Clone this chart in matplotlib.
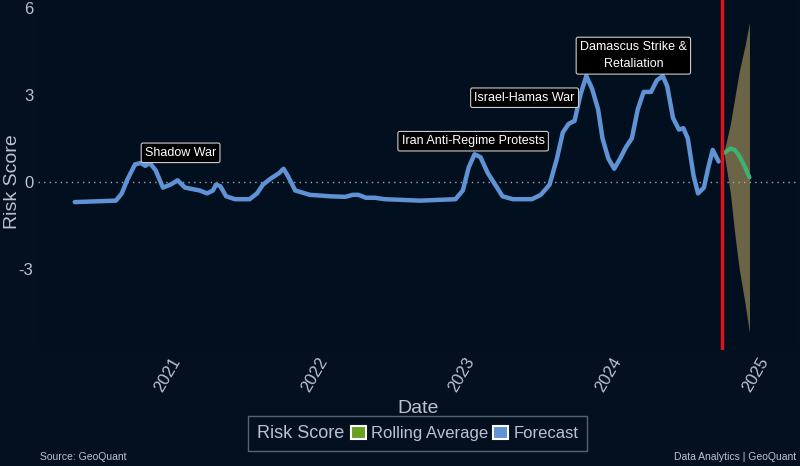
import matplotlib.pyplot as plt
from matplotlib.patches import Patch
from matplotlib.offsetbox import HPacker

plt.rcParams["font.family"] = "Liberation Sans"
plt.rcParams["axes.unicode_minus"] = False

# risk score history (decimal year, score)
dates = [2020.37, 2020.65, 2020.69, 2020.73, 2020.78, 2020.82, 2020.85, 2020.88, 2020.92, 2020.97,
         2021.02, 2021.07, 2021.12, 2021.17, 2021.22, 2021.27, 2021.31, 2021.33, 2021.36, 2021.40,
         2021.46, 2021.56, 2021.61, 2021.65, 2021.70, 2021.76, 2021.79, 2021.82, 2021.87, 2021.97,
         2022.11, 2022.21, 2022.26, 2022.30, 2022.35, 2022.41, 2022.48, 2022.72, 2022.96, 2023.01,
         2023.05, 2023.09, 2023.13, 2023.18, 2023.23, 2023.28, 2023.35, 2023.48, 2023.54, 2023.60,
         2023.65, 2023.69, 2023.73, 2023.77, 2023.81, 2023.85, 2023.89, 2023.93, 2023.96, 2024.00,
         2024.04, 2024.08, 2024.12, 2024.16, 2024.20, 2024.24, 2024.29, 2024.33, 2024.37, 2024.40,
         2024.44, 2024.48, 2024.51, 2024.54, 2024.58, 2024.61, 2024.65, 2024.68, 2024.71, 2024.73,
         2024.75]
scores = [-0.7, -0.65, -0.4, 0.1, 0.6, 0.65, 0.55, 0.65, 0.4, -0.2,
          -0.1, 0.05, -0.2, -0.25, -0.3, -0.4, -0.3, -0.1, -0.15, -0.5,
          -0.6, -0.6, -0.4, -0.1, 0.1, 0.3, 0.45, 0.2, -0.3, -0.45,
          -0.5, -0.52, -0.45, -0.45, -0.55, -0.55, -0.6, -0.65, -0.6, -0.3,
          0.5, 0.95, 0.85, 0.3, -0.1, -0.5, -0.6, -0.6, -0.45, -0.1,
          0.8, 1.7, 2.0, 2.1, 3.0, 3.65, 3.2, 2.5, 1.5, 0.8,
          0.45, 0.8, 1.2, 1.5, 2.5, 3.1, 3.1, 3.5, 3.65, 3.3,
          2.2, 1.8, 1.85, 1.5, 0.2, -0.4, -0.2, 0.5, 1.1, 0.9,
          0.7]

fc_dates = [2024.79, 2024.83, 2024.86, 2024.89, 2024.93, 2024.96]
fc_values = [1.0, 1.15, 1.1, 0.9, 0.5, 0.15]
fc_upper = [1.1, 2.0, 2.9, 3.8, 4.7, 5.5]
fc_lower = [0.9, -0.4, -1.8, -3.0, -4.2, -5.2]
cutoff = 2024.77

labels = ["Shadow War", "Iran Anti-Regime Protests", "Israel-Hamas War", "Damascus Strike &\nRetaliation"]
label_x = [2021.09, 2023.08, 2023.43, 2024.17]
label_y = [1.0, 1.4, 2.9, 4.35]

bg = "#04101f"
fg = "#b8c4d0"

fig = plt.figure(figsize=(8, 4.66), dpi=100, facecolor=bg)
ax = fig.add_axes([0.0475, 0.249, 0.95, 0.751], facecolor="#020f1e")

ax.fill_between(fc_dates, fc_lower, fc_upper, color="#6b6446", linewidth=0)
ax.axhline(0, color="#9aa5b0", linestyle=(0, (1, 3)), linewidth=1)
ax.plot(dates, scores, color="#5f93d6", linewidth=3.2, solid_capstyle="round")
ax.plot(fc_dates, fc_values, color="#3cb371", linewidth=3, solid_capstyle="round")
ax.axvline(cutoff, color="#e0111b", linewidth=2.5)

for txt, x, y in zip(labels, label_x, label_y):
    ax.text(x, y, txt, color="white", fontsize=9, ha="center", va="center",
            linespacing=1.6,
            bbox=dict(boxstyle="round,pad=0.3,rounding_size=0.15", fc="black", ec="#cccccc", lw=0.8))

ax.set_xlim(2020.12, 2025.29)
ax.set_ylim(-5.8, 6.27)
ax.set_xticks([2021, 2022, 2023, 2024, 2025])
ax.set_xticklabels(["2021", "2022", "2023", "2024", "2025"], rotation=60)
ax.set_yticks([-3, 0, 3, 6])
ax.tick_params(colors=fg, labelsize=12, length=0)
for s in ax.spines.values():
    s.set_visible(False)
ax.set_xlabel("Date", color=fg, fontsize=14)
fig.text(0.016, 0.61, "Risk Score", color=fg, fontsize=14, rotation=90, ha="center", va="center")

handles = [Patch(fc="#6aa121", ec="white", lw=1.5, label="Rolling Average"),
           Patch(fc="#5f93d6", ec="white", lw=1.5, label="Forecast")]
leg = fig.legend(handles=handles, loc="center", bbox_to_anchor=(0.522, 0.07), ncol=2,
                 title="Risk Score", fontsize=12, title_fontsize=13, frameon=True,
                 handlelength=0.9, handleheight=0.9, handletextpad=0.3, columnspacing=0.3,
                 borderpad=0.25, facecolor=bg, edgecolor="#6a7885")
leg.get_frame().set_boxstyle("square")
plt.setp(leg.get_texts(), color=fg)
leg.get_title().set_color(fg)
# put title inline with items
leg._legend_box._children = [HPacker(children=leg._legend_box.get_children(), align="center", pad=0, sep=5)]
fig.text(0.05, 0.012, "Source: GeoQuant", color=fg, fontsize=7.5)
fig.text(0.995, 0.012, "Data Analytics | GeoQuant", color=fg, fontsize=7.5, ha="right")

fig.savefig("out.png", dpi=100, facecolor=bg)
